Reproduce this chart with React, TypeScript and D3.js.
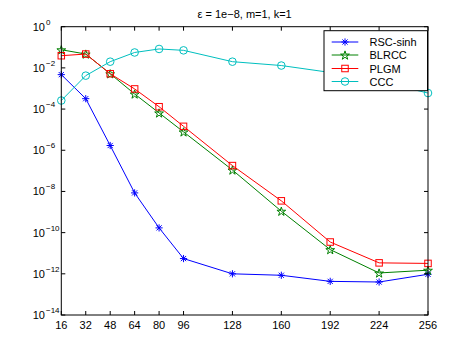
import React from "react";
import * as d3 from "d3";

const xValues = [16, 32, 48, 64, 80, 96, 128, 160, 192, 224, 256];
const xTicks = [16, 32, 48, 64, 80, 96, 128, 160, 192, 224, 256];
const yTickExps = [0, -2, -4, -6, -8, -10, -12, -14];

const rscSinh = [4.7e-3, 3.2e-4, 1.7e-6, 8.5e-9, 1.7e-10, 5.5e-12, 1.0e-12, 8.5e-13, 4.3e-13, 4.0e-13, 9.5e-13];
const blrcc = [7.6e-2, 4.7e-2, 5.2e-3, 5.4e-4, 6.5e-5, 7.8e-6, 1.1e-7, 1.1e-9, 1.5e-11, 1.1e-12, 1.5e-12];
const plgm = [3.9e-2, 4.7e-2, 5.2e-3, 9.5e-4, 1.3e-4, 1.45e-5, 1.8e-7, 3.5e-9, 3.5e-11, 3.4e-12, 3.2e-12];
const ccc = [2.6e-4, 4.2e-3, 2.0e-2, 5.6e-2, 8.3e-2, 7.1e-2, 2.0e-2, 1.3e-2, 6.0e-3, 2.2e-3, 6.0e-4];

const seriesNames = ["RSC-sinh", "BLRCC", "PLGM", "CCC"];
const seriesColors = ["#0000ff", "#008000", "#ff0000", "#00bfbf"];
const seriesMarkers = ["asterisk", "star", "square", "circle"];
const seriesData = [rscSinh, blrcc, plgm, ccc];

const W = 474;
const H = 355;
const L = 61.3, R = 428, T = 26.7, B = 315;
const FONT = "'Liberation Sans', Arial, Helvetica, sans-serif";

function Marker({ type, x, y, color }: { type: string; x: number; y: number; color: string }) {
  if (type === "asterisk") {
    const s = 3.6;
    const d = s * 0.72;
    return (
      <g stroke={color} strokeWidth={1}>
        <line x1={x - s} y1={y} x2={x + s} y2={y} />
        <line x1={x} y1={y - s} x2={x} y2={y + s} />
        <line x1={x - d} y1={y - d} x2={x + d} y2={y + d} />
        <line x1={x - d} y1={y + d} x2={x + d} y2={y - d} />
      </g>
    );
  }
  if (type === "star") {
    const p = d3.symbol(d3.symbolStar, 24)();
    return <path d={p || ""} transform={`translate(${x},${y + 0.5})`} fill="none" stroke={color} strokeWidth={1} />;
  }
  if (type === "square") {
    const s = 6.5;
    return <rect x={x - s / 2} y={y - s / 2} width={s} height={s} fill="none" stroke={color} strokeWidth={1} />;
  }
  return <circle cx={x} cy={y} r={3.8} fill="none" stroke={color} strokeWidth={1} />;
}

export default function App() {
  const xScale = d3.scaleLinear().domain([16, 256]).range([L, R]);
  const yScale = d3.scaleLog().domain([1e-14, 1]).range([B, T]);
  const line = d3
    .line<number>()
    .x((_, i) => xScale(xValues[i]))
    .y((d) => yScale(d));

  const legX = 324, legY = 30.7, legW = 103.5, legH = 60;
  const rowYs = [42, 55, 68.5, 81.5];

  return (
    <svg width={W} height={H} style={{ position: "absolute", left: 0, top: 0, background: "#fff" }} fontFamily={FONT}>
      <rect x={0} y={0} width={W} height={H} fill="#fff" />
      {seriesData.map((s, si) => (
        <g key={si}>
          <path d={line(s) || ""} fill="none" stroke={seriesColors[si]} strokeWidth={1} />
          {s.map((v, i) => (
            <Marker key={i} type={seriesMarkers[si]} x={xScale(xValues[i])} y={yScale(v)} color={seriesColors[si]} />
          ))}
        </g>
      ))}
      <rect x={L} y={T} width={R - L} height={B - T} fill="none" stroke="#000" strokeWidth={1} />
      {xTicks.map((t) => (
        <g key={t}>
          <line x1={xScale(t)} x2={xScale(t)} y1={B} y2={B - 4} stroke="#000" />
          <line x1={xScale(t)} x2={xScale(t)} y1={T} y2={T + 4} stroke="#000" />
          <text x={xScale(t)} y={B + 14} fontSize={11} textAnchor="middle" fill="#000">
            {t}
          </text>
        </g>
      ))}
      {yTickExps.map((e) => {
        const y = yScale(Math.pow(10, e));
        return (
          <g key={e}>
            <line x1={L} x2={L + 4} y1={y} y2={y} stroke="#000" />
            <line x1={R} x2={R - 4} y1={y} y2={y} stroke="#000" />
            <text x={45} y={y + 4} fontSize={11} textAnchor="end" fill="#000">
              10
            </text>
            <text x={46} y={y - 2} fontSize={8} textAnchor="start" fill="#000">
              {e === 0 ? "0" : `\u2212${-e}`}
            </text>
          </g>
        );
      })}
      <text x={(L + R) / 2} y={18} fontSize={11} textAnchor="middle" fill="#000">
        ε = 1e−8, m=1, k=1
      </text>
      <rect x={legX} y={legY} width={legW} height={legH} fill="#fff" stroke="#000" strokeWidth={1} />
      {seriesNames.map((n, i) => (
        <g key={n}>
          <line x1={331.7} x2={358.3} y1={rowYs[i]} y2={rowYs[i]} stroke={seriesColors[i]} strokeWidth={1} />
          <Marker type={seriesMarkers[i]} x={345} y={rowYs[i]} color={seriesColors[i]} />
          <text x={369.5} y={rowYs[i] + 4} fontSize={11} fill="#000">
            {n}
          </text>
        </g>
      ))}
    </svg>
  );
}
